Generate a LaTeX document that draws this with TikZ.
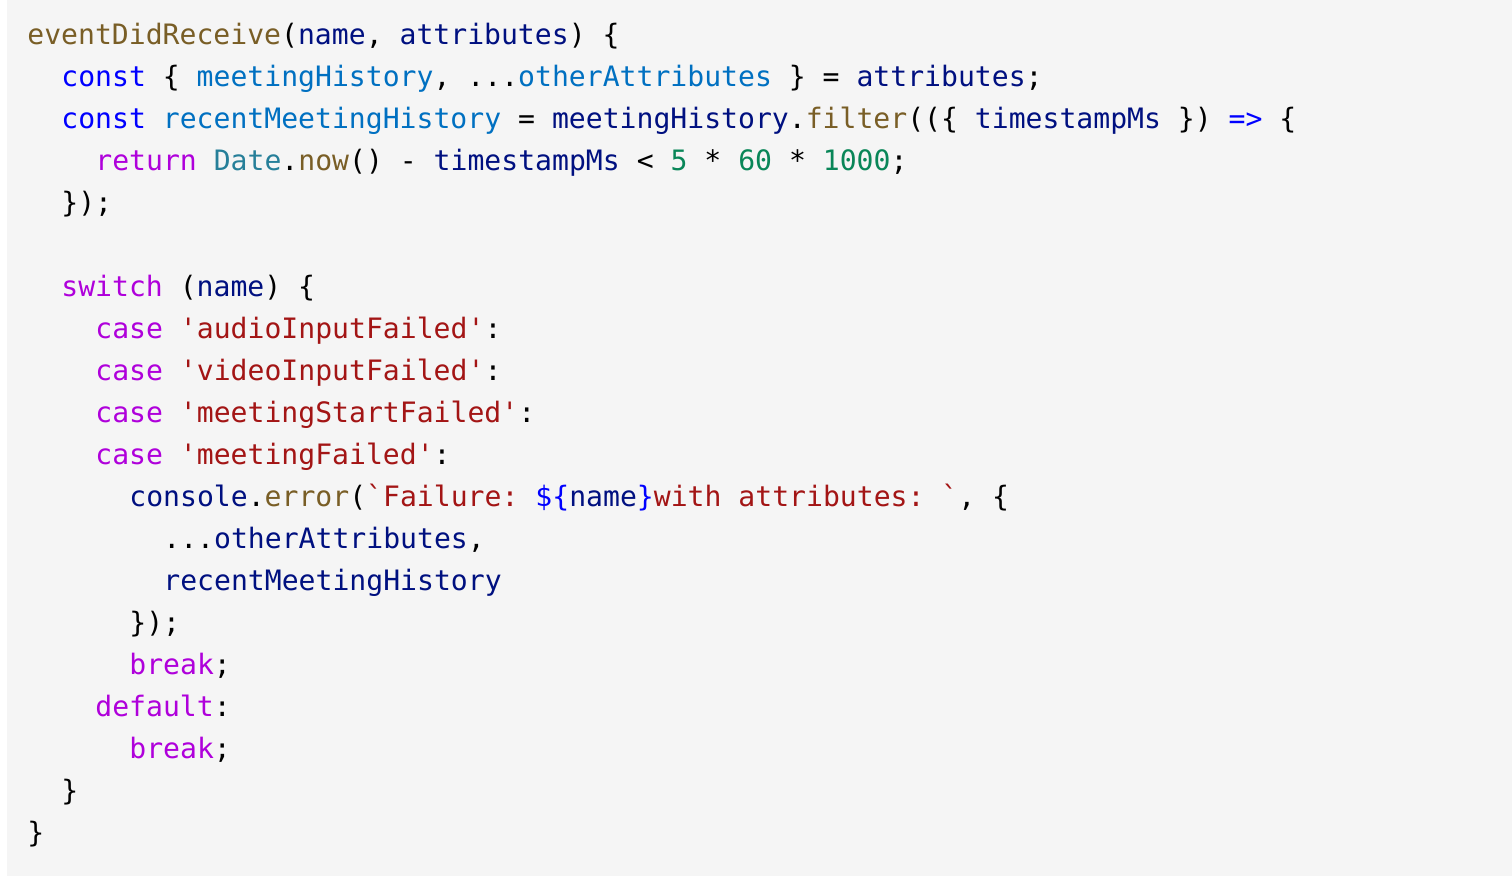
\documentclass[tikz,border=0pt]{standalone}
\usepackage{fontspec}
\setmonofont{DejaVu Sans Mono}
\usepackage{xcolor}
\definecolor{bg}{HTML}{F5F5F5}
\definecolor{fn}{HTML}{795E26}
\definecolor{vr}{HTML}{001080}
\definecolor{kw}{HTML}{0000FF}
\definecolor{cv}{HTML}{0070C1}
\definecolor{ct}{HTML}{AF00DB}
\definecolor{st}{HTML}{A31515}
\definecolor{nm}{HTML}{098658}
\definecolor{ty}{HTML}{267F99}
\newcommand{\tk}[2]{\textcolor{#1}{#2}}
\tikzset{codeline/.style={anchor=base west,inner sep=0pt,font=\ttfamily\fontsize{14.05pt}{16pt}\selectfont,text=black}}
\begin{document}
\begin{tikzpicture}[x=0.5pt,y=-0.5pt]
\useasboundingbox (0,0) rectangle (1512,886);
\fill[bg] (7,0) rectangle (1512,876);
\newcommand{\Y}[1]{45+42*#1}
\node[codeline] (l0) at (27,{\Y{0}}) {\tk{fn}{eventDidReceive}(\tk{vr}{name}, \tk{vr}{attributes}) \{};
\node[codeline] (l1) at (61,{\Y{1}}) {\tk{kw}{const} \{ \tk{cv}{meetingHistory}, ...\tk{cv}{otherAttributes} \} = \tk{vr}{attributes};};
\node[codeline] (l2) at (61,{\Y{2}}) {\tk{kw}{const} \tk{cv}{recentMeetingHistory} = \tk{vr}{meetingHistory}.\tk{fn}{filter}((\{ \tk{vr}{timestampMs} \}) \tk{kw}{=>} \{};
\node[codeline] (l3) at (95,{\Y{3}}) {\tk{ct}{return} \tk{ty}{Date}.\tk{fn}{now}() - \tk{vr}{timestampMs} < \tk{nm}{5} * \tk{nm}{60} * \tk{nm}{1000};};
\node[codeline] (l4) at (61,{\Y{4}}) {\});};
\node[codeline] (l6) at (61,{\Y{6}}) {\tk{ct}{switch} (\tk{vr}{name}) \{};
\node[codeline] (l7) at (95,{\Y{7}}) {\tk{ct}{case} \tk{st}{\symbol{39}audioInputFailed\symbol{39}}:};
\node[codeline] (l8) at (95,{\Y{8}}) {\tk{ct}{case} \tk{st}{\symbol{39}videoInputFailed\symbol{39}}:};
\node[codeline] (l9) at (95,{\Y{9}}) {\tk{ct}{case} \tk{st}{\symbol{39}meetingStartFailed\symbol{39}}:};
\node[codeline] (l10) at (95,{\Y{10}}) {\tk{ct}{case} \tk{st}{\symbol{39}meetingFailed\symbol{39}}:};
\node[codeline] (l11) at (129,{\Y{11}}) {\tk{vr}{console}.\tk{fn}{error}(\tk{st}{\symbol{96}Failure: }\tk{kw}{\$\{}\tk{vr}{name}\tk{kw}{\}}\tk{st}{ with attributes: \symbol{96}}, \{};
\node[codeline] (l12) at (163,{\Y{12}}) {...\tk{vr}{otherAttributes},};
\node[codeline] (l13) at (163,{\Y{13}}) {\tk{vr}{recentMeetingHistory}};
\node[codeline] (l14) at (129,{\Y{14}}) {\});};
\node[codeline] (l15) at (129,{\Y{15}}) {\tk{ct}{break};};
\node[codeline] (l16) at (95,{\Y{16}}) {\tk{ct}{default}:};
\node[codeline] (l17) at (129,{\Y{17}}) {\tk{ct}{break};};
\node[codeline] (l18) at (61,{\Y{18}}) {\}};
\node[codeline] (l19) at (27,{\Y{19}}) {\}};
\end{tikzpicture}
\end{document}
